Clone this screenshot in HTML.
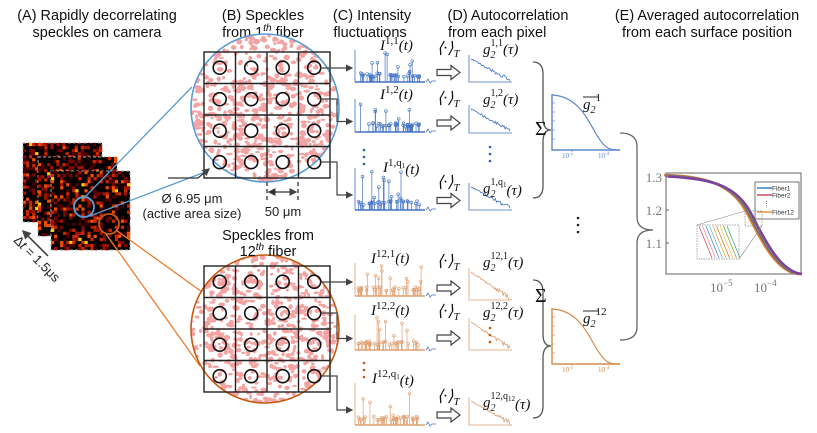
<!DOCTYPE html>
<html><head><meta charset="utf-8"><style>
body{margin:0;background:#fff;}
svg{display:block;font-family:"Liberation Sans",sans-serif;}
.t{font-size:14.5px;fill:#111;text-anchor:middle}
.m{font-family:"Liberation Serif",serif;font-style:italic;fill:#111}
.n{font-family:"Liberation Serif",serif;fill:#111}
</style></head><body>
<svg id="s" width="817" height="433" viewBox="0 0 817 433" xmlns="http://www.w3.org/2000/svg">
<defs>
<clipPath id="c1"><circle cx="265" cy="108" r="74"/></clipPath>
<clipPath id="c2"><circle cx="265" cy="329" r="74"/></clipPath>
<marker id="ar" markerWidth="6" markerHeight="6" refX="5" refY="3" orient="auto"><path d="M0,0 L6,3 L0,6z" fill="#444"/></marker>
<marker id="ar2" markerWidth="6" markerHeight="6" refX="1" refY="3" orient="auto"><path d="M6,0 L0,3 L6,6z" fill="#333"/></marker>
</defs>
<text class="t" x="97" y="20">(A) Rapidly decorrelating</text>
<text class="t" x="97" y="37">speckles on camera</text>
<text class="t" x="263" y="20">(B) Speckles</text>
<text class="t" x="263" y="37">from 1<tspan font-style="italic" style="font-size:10px" dy="-6">th</tspan><tspan dy="6"> fiber</tspan></text>
<text class="t" x="372" y="20">(C) Intensity</text>
<text class="t" x="370" y="37">fluctuations</text>
<text class="t" x="508" y="20">(D) Autocorrelation</text>
<text class="t" x="448" y="37" style="text-anchor:start">from each pixel</text>
<text class="t" x="707" y="20">(E) Averaged autocorrelation</text>
<text class="t" x="707" y="37">from each surface position</text>
<g id="cam"></g>
<text x="13" y="241" style="font-size:13px" transform="rotate(45 13 241)" fill="#222">Δ<tspan font-style="italic">t</tspan> = 1.5μs</text>
<line x1="48" y1="256" x2="23" y2="231" stroke="#333" stroke-width="1.5" marker-end="url(#ar)"/>
<line x1="84" y1="198" x2="192" y2="87" stroke="#5b9bd5" stroke-width="1.3"/>
<line x1="90" y1="216" x2="205" y2="172" stroke="#5b9bd5" stroke-width="1.3"/>
<line x1="116" y1="230" x2="202" y2="292" stroke="#ed7d31" stroke-width="1.3"/>
<line x1="106" y1="234" x2="200" y2="366" stroke="#ed7d31" stroke-width="1.3"/>
<g id="sp1" clip-path="url(#c1)"></g>
<g id="sp2" clip-path="url(#c2)"></g>
<circle cx="265" cy="108" r="74" fill="none" stroke="#5b9bd5" stroke-width="1.6"/>
<circle cx="265" cy="329" r="74" fill="none" stroke="#c55a11" stroke-width="1.6"/>
<g id="grid"></g>
<text x="192" y="203" style="font-size:13px" fill="#222" text-anchor="middle">Ø 6.95 μm</text>
<text x="192" y="218" style="font-size:13px" fill="#222" text-anchor="middle">(active area size)</text>
<polyline points="168,178 198,178 209,169" fill="none" stroke="#333" stroke-width="1.3" marker-end="url(#ar)"/>
<line x1="267" y1="182" x2="267" y2="202" stroke="#333" stroke-dasharray="4,3" stroke-width="1.3"/>
<line x1="298" y1="182" x2="298" y2="202" stroke="#333" stroke-dasharray="4,3" stroke-width="1.3"/>
<line x1="269" y1="192" x2="296" y2="192" stroke="#333" stroke-width="1.3" marker-end="url(#ar)" marker-start="url(#ar2)"/>
<text x="283" y="216" style="font-size:13px" fill="#222" text-anchor="middle">50 μm</text>
<text class="t" x="268" y="240">Speckles from</text>
<text class="t" x="268" y="256">12<tspan font-style="italic" style="font-size:10px" dy="-6">th</tspan><tspan dy="6"> fiber</tspan></text>
<g id="plots"></g>
<path d="M533,62 q10,0 10,12 v44 q0,12 8,12 q-8,0 -8,12 v44 q0,12 -10,12" fill="none" stroke="#555" stroke-width="1.3"/>
<path d="M533,280 q10,0 10,12 v42 q0,12 8,12 q-8,0 -8,12 v48 q0,12 -10,12" fill="none" stroke="#555" stroke-width="1.3"/>
<path d="M620,133 q17,0 17,14 v70 q0,13 16,13 q-16,0 -16,13 v84 q0,13 -17,13" fill="none" stroke="#666" stroke-width="1.3"/>
<text class="n" x="535" y="135" style="font-size:20px">Σ</text>
<text class="n" x="535" y="302" style="font-size:20px">Σ</text>
<circle cx="578" cy="218" r="1.3" fill="#222"/><circle cx="578" cy="225" r="1.3" fill="#222"/><circle cx="578" cy="232" r="1.3" fill="#222"/>
<g id="E"></g>
</svg>
<script>
var sd=7;function r(){sd=(sd*16807)%2147483647;return (sd-1)/2147483646;}
var NS="http://www.w3.org/2000/svg";
function el(p,t,a){var e=document.createElementNS(NS,t);for(var k in a)e.setAttribute(k,a[k]);p.appendChild(e);return e;}
function g(id){return document.getElementById(id);}
var cam=g("cam");
var cols=["#000","#2a0000","#500000","#7a0800","#a01400","#c82800","#f05000","#ffd000"];
[[23,143],[38,157],[51,171]].forEach(function(o,i){
 el(cam,"rect",{x:o[0],y:o[1],width:79,height:79,fill:"#000",stroke:"#aaa","stroke-dasharray":"3,2"});
 var n=26,c=79/n;
 for(var a=0;a<n;a++)for(var b=0;b<n;b++){var v=r();var idx=v<0.55?0:Math.min(6,Math.floor((v-0.55)*13)+1);if(r()<0.012)idx=7;
 if(idx>0)el(cam,"rect",{x:o[0]+a*c,y:o[1]+b*c,width:c+0.2,height:c+0.2,fill:cols[idx]});}
});
el(cam,"circle",{cx:84,cy:207,r:10,fill:"none",stroke:"#5b9bd5","stroke-width":1.8});
el(cam,"circle",{cx:109,cy:224,r:10,fill:"none",stroke:"#c55a11","stroke-width":1.8});
["sp1","sp2"].forEach(function(id,k){var G=g(id),cy=k?329:108;
 el(G,"rect",{x:190,y:cy-75,width:150,height:150,fill:"#fff"});
 for(var i=0;i<750;i++){el(G,"ellipse",{cx:190+r()*150,cy:cy-75+r()*150,rx:1.3+r()*2.2,ry:1+r()*1.8,fill:"#f4a3a3"});}
});
var gr=g("grid");
[[204,52],[204,266]].forEach(function(o){
 el(gr,"rect",{x:o[0],y:o[1],width:126,height:126,fill:"none",stroke:"#222","stroke-width":1.4});
 for(var i=1;i<4;i++){el(gr,"line",{x1:o[0]+i*31.5,y1:o[1],x2:o[0]+i*31.5,y2:o[1]+126,stroke:"#222","stroke-width":1.4});
 el(gr,"line",{x1:o[0],y1:o[1]+i*31.5,x2:o[0]+126,y2:o[1]+i*31.5,stroke:"#222","stroke-width":1.4});}
 for(var a=0;a<4;a++)for(var b=0;b<4;b++)el(gr,"circle",{cx:o[0]+15.7+a*31.5,cy:o[1]+15.7+b*31.5,r:6.5,fill:"none",stroke:"#111","stroke-width":1.6});
});
var P=g("plots");
function stem(x0,y0,w,h,col){
 el(P,"line",{x1:x0,y1:y0,x2:x0,y2:y0+h,stroke:col,"stroke-width":0.8});
 el(P,"line",{x1:x0,y1:y0+h,x2:x0+w,y2:y0+h,stroke:col,"stroke-width":1.5});
 for(var i=0;i<40;i++){var x=x0+3+r()*(w-6);var hh=r()<0.75?5+r()*4:8+r()*(h-10);
  el(P,"line",{x1:x,y1:y0+h,x2:x,y2:y0+h-hh,stroke:col,"stroke-width":0.7});
  el(P,"circle",{cx:x,cy:y0+h-hh,r:1.4,fill:"none",stroke:col,"stroke-width":0.6});}
 el(P,"path",{d:"M"+(x0+w+1)+","+(y0+h)+" l2,-3 l2,4 l2,-2 l4,0",fill:"none",stroke:"#4472c4","stroke-width":0.8});
}
function corr(x0,y0,w,h,col){
 el(P,"polyline",{points:x0+","+y0+" "+x0+","+(y0+h)+" "+(x0+w)+","+(y0+h),fill:"none",stroke:col,"stroke-width":0.8});
 var pts=[];for(var i=0;i<=40;i++){var x=x0+2+i*(w-4)/40;var y=y0+4+i*(h-6)/40+(r()-0.5)*(i/10+1);pts.push(x.toFixed(1)+","+y.toFixed(1));}
 el(P,"polyline",{points:pts.join(" "),fill:"none",stroke:col,"stroke-width":0.8});
}
function harrow(x,y){el(P,"path",{d:"M"+x+","+(y-3)+" h14 v-4 l9,7 l-9,7 v-4 h-14z",fill:"#fff",stroke:"#444","stroke-width":1.2});}
function txt(x,y,html,fs,fill){var t=el(P,"text",{x:x,y:y,"class":"m"});t.style.fontSize=(fs||15)+"px";if(fill)t.style.fill=fill;t.innerHTML=html;return t;}
function conn(pts){el(P,"polyline",{points:pts,fill:"none",stroke:"#444","stroke-width":1.2,"marker-end":"url(#ar)"});}
var B="#4472c4",O="#e0a070";
var rowsT=[[50,82,'1,1'],[99,132,'1,2'],[168,210,'1,q']];
var rowsB=[[263,296,'12,1'],[315,350,'12,2'],[383,425,'12,q']];
function sup(s){return s.replace('q','q<tspan style="font-size:7px" dy="2">1</tspan><tspan dy="-2"></tspan>');}
[[rowsT,B,"1"],[rowsB,O,"12"]].forEach(function(set,k){
 var rows=set[0],col=set[1];
 var gy=k?[[268,300],[318,350],[397,425]]:[[55,82],[105,133],[183,210]];
 var cy=k?[282,313,376]:[68,99,162];
 rows.forEach(function(rw,i){
  stem(355,rw[0],70,rw[1]-rw[0],col);
  var lab=rw[2];
  var ty=rw[0]+(i==2?(k?0:4):0);
  txt(i==2?(k?372:383):(k?371:380),ty,'I<tspan style="font-size:11px;font-style:normal" dy="-6">'+sup(lab)+'</tspan><tspan dy="6">(t)</tspan>',15);
  harrow(437,(gy[i][0]+gy[i][1])/2+4);
  txt(437,gy[i][0]-2+(i==2?6:0),'⟨·⟩<tspan style="font-size:11px" dy="4">T</tspan>',16);
  corr(469,gy[i][0],43,gy[i][1]-gy[i][0],col);
  var gl=(i==2)?(k?'12,q<tspan style="font-size:7px" dy="2">12</tspan><tspan dy="-2"></tspan>':'1,q<tspan style="font-size:7px" dy="2">1</tspan><tspan dy="-2"></tspan>'):lab;
  txt(483,gy[i][0]+(i==2?10:-1),'g<tspan style="font-size:10px" dy="4">2</tspan><tspan style="font-size:10px;font-style:normal" dx="-5" dy="-12">'+gl+'</tspan><tspan dy="8">(τ)</tspan>',15);
  var ccx=320.5,yy=cy[i],ty2=(rw[0]+rw[1])/2+(i==0?-4:6);
  if(i==0)conn(ccx+","+yy+" 352,"+yy); else conn(ccx+","+yy+" 337,"+yy+" 337,"+ty2+" 352,"+ty2);
 });
 var dc=k?"#c55a11":"#2e5fa8";
 [[364,k?363:150],[490,k?328:147]].forEach(function(d){for(var j=0;j<3;j++)el(P,"circle",{cx:d[0],cy:d[1]+j*7,r:1.3,fill:dc});});
 var y0=k?308:94,sc=k?"#d58a4a":"#5b86d0";
 el(P,"polyline",{points:"552,"+y0+" 552,"+(y0+56)+" 620,"+(y0+56),fill:"none",stroke:sc,"stroke-width":1.4});
 for(var j=1;j<6;j++)el(P,"line",{x1:552,y1:y0+j*9,x2:555,y2:y0+j*9,stroke:sc,"stroke-width":0.6});
 el(P,"path",{d:"M552,"+(y0+1)+" C575,"+(y0+2)+" 585,"+(y0+20)+" 595,"+(y0+38)+" S610,"+(y0+56)+" 620,"+(y0+56),fill:"none",stroke:sc,"stroke-width":1.2});
 txt(562,y0+64,'10<tspan style="font-size:5px" dy="-3">-5</tspan>',7,sc).style.fontStyle="normal";
 txt(598,y0+64,'10<tspan style="font-size:5px" dy="-3">-4</tspan>',7,sc).style.fontStyle="normal";
 txt(583,y0+15,'g<tspan style="font-size:10px" dy="4">2</tspan><tspan style="font-style:normal;font-size:11px" dy="-12">'+set[2]+'</tspan>',15);
 el(P,"line",{x1:583,y1:y0+3,x2:599,y2:y0+3,stroke:"#111","stroke-width":0.9});
});
var E=g("E");
el(E,"rect",{x:666,y:173,width:135,height:101,fill:"#fff",stroke:"#666","stroke-width":1});
[["1.3",177],["1.2",210],["1.1",243]].forEach(function(a){var t=el(E,"text",{x:662,y:a[1]+5,"font-family":"Liberation Serif,serif",fill:"#777","text-anchor":"end"});t.style.fontSize="13px";t.textContent=a[0];el(E,"line",{x1:666,y1:a[1],x2:669,y2:a[1],stroke:"#666"});});
var t1=el(E,"text",{x:710,y:292,"font-family":"Liberation Serif,serif",fill:"#777"});t1.style.fontSize="13px";t1.innerHTML='10<tspan style="font-size:9px" dy="-6">−5</tspan>';
var t2=el(E,"text",{x:754,y:292,"font-family":"Liberation Serif,serif",fill:"#777"});t2.style.fontSize="13px";t2.innerHTML='10<tspan style="font-size:9px" dy="-6">−4</tspan>';
var cc=["#d07030","#e8a020","#c04050","#4080c0","#70a030","#8040a0"];
cc.forEach(function(c,i){var o=i*0.6;el(E,"path",{d:"M666,"+(175+o*0.5)+" C710,"+(176+o)+" 735,185 750,215 S780,272 800,274",fill:"none",stroke:c,"stroke-width":2.5,transform:"translate("+(i*0.8-2)+",0)"});});
el(E,"rect",{x:755,y:182,width:44,height:37,fill:"#fff",stroke:"#555","stroke-width":0.8});
[["#2f80d0","Fiber1",188],["#c05060","Fiber2",195],["#f09040","Fiber12",212]].forEach(function(a){el(E,"line",{x1:757,y1:a[2],x2:772,y2:a[2],stroke:a[0],"stroke-width":1.5});var t=el(E,"text",{x:772,y:a[2]+2.5,fill:"#333"});t.style.fontSize="6.5px";t.textContent=a[1];});
var td=el(E,"text",{x:763,y:206,fill:"#333"});td.style.fontSize="7px";td.textContent="⋮";
el(E,"rect",{x:745,y:211,width:17,height:15,fill:"none",stroke:"#888","stroke-width":0.7,"stroke-dasharray":"1.5,1"});
el(E,"rect",{x:697,y:225,width:42,height:34,fill:"#fff",stroke:"#888","stroke-width":0.7,"stroke-dasharray":"1.5,1"});
el(E,"line",{x1:697,y1:225,x2:745,y2:211,stroke:"#888","stroke-width":0.6});
el(E,"line",{x1:739,y1:259,x2:762,y2:226,stroke:"#888","stroke-width":0.6});
["#c04050","#e080a0","#4080c0","#60b0e0","#e8a020","#d07030","#f0c040","#70a030","#30a080"].forEach(function(c,i){el(E,"line",{x1:699+i*3.5,y1:226,x2:712+i*3.5,y2:258,stroke:c,"stroke-width":0.7});});
</script>
</body></html>
